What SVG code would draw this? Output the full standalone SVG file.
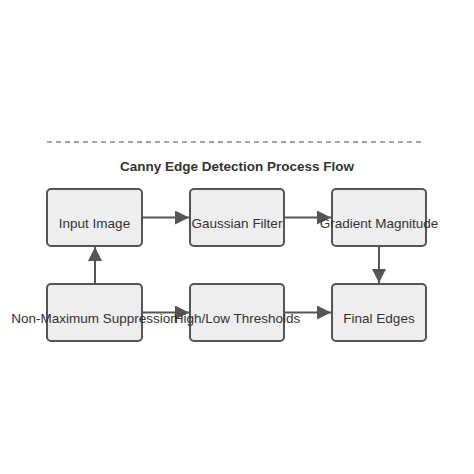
<svg xmlns="http://www.w3.org/2000/svg" width="474" height="474" viewBox="0 0 474 474">
  <style>
    .box { fill: #eeeeee; stroke: #555555; stroke-width: 2; }
    .lbl { font-family: "Liberation Sans", Arial, sans-serif; font-size: 13.5px; fill: #333333; text-anchor: middle; }
    .title { font-family: "Liberation Sans", Arial, sans-serif; font-size: 13.5px; font-weight: bold; fill: #333333; text-anchor: middle; }
    .edge { stroke: #555555; stroke-width: 2; fill: none; marker-end: url(#arrow); }
  </style>
  <defs>
    <marker id="arrow" viewBox="0 0 10 10" refX="10" refY="5" markerUnits="userSpaceOnUse" markerWidth="18" markerHeight="14" orient="auto">
      <path d="M0,0 L10,5 L0,10 Z" fill="#555555"/>
    </marker>
  </defs>
  <rect width="474" height="474" fill="#ffffff"/>
  <line x1="47" y1="142" x2="422" y2="142" stroke="#888888" stroke-width="1.5" stroke-dasharray="5,4"/>
  <text class="title" x="237" y="170.5">Canny Edge Detection Process Flow</text>

  <g id="edges">
    <line class="edge" x1="142" y1="217.5" x2="189" y2="217.5"/>
    <line class="edge" x1="284" y1="217.5" x2="331" y2="217.5"/>
    <line class="edge" x1="379" y1="246" x2="379" y2="283"/>
    <line class="edge" x1="142" y1="312.5" x2="189" y2="312.5"/>
    <line class="edge" x1="284" y1="312.5" x2="331" y2="312.5"/>
    <line class="edge" x1="95" y1="284" x2="95" y2="247"/>
  </g>

  <g id="input">
    <rect class="box" x="47" y="189" width="95" height="57" rx="4"/>
    <text class="lbl" x="94.5" y="227.5">Input Image</text>
  </g>
  <g id="gaussian">
    <rect class="box" x="190" y="189" width="94" height="57" rx="4"/>
    <text class="lbl" x="237" y="227.5">Gaussian Filter</text>
  </g>
  <g id="gradient">
    <rect class="box" x="332" y="189" width="94" height="57" rx="4"/>
    <text class="lbl" x="379" y="227.5">Gradient Magnitude</text>
  </g>
  <g id="nms">
    <rect class="box" x="47" y="284" width="95" height="57" rx="4"/>
    <text class="lbl" x="94.5" y="322.5">Non-Maximum Suppression</text>
  </g>
  <g id="thresholds">
    <rect class="box" x="190" y="284" width="94" height="57" rx="4"/>
    <text class="lbl" x="237" y="322.5">High/Low Thresholds</text>
  </g>
  <g id="final">
    <rect class="box" x="332" y="284" width="94" height="57" rx="4"/>
    <text class="lbl" x="379" y="322.5">Final Edges</text>
  </g>
</svg>
